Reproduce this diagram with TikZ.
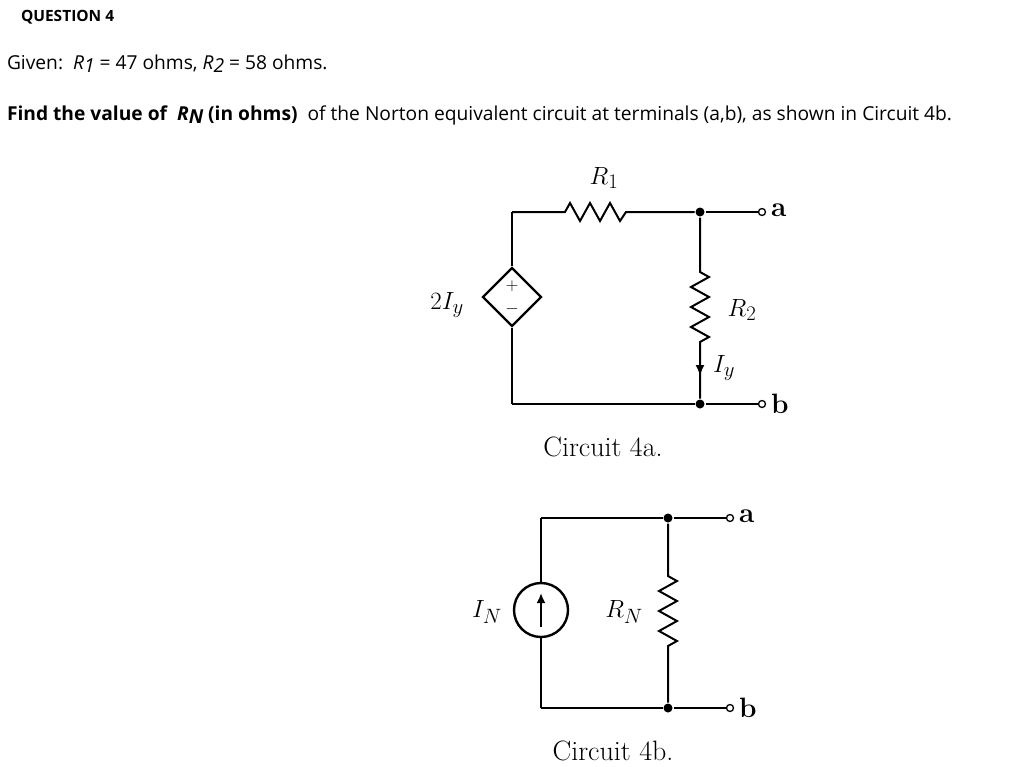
\documentclass[tikz,border=0pt]{standalone}
\usepackage{fontspec}
\setmainfont{Latin Modern Roman}
\newfontfamily\ui{Open Sans}
\usetikzlibrary{arrows.meta}
\begin{document}
\begin{tikzpicture}[x=1pt,y=-1pt,line width=2pt,
  dot/.style={circle,fill=black,inner sep=0,minimum size=9pt},
  term/.style={circle,draw=black,fill=white,line width=1.3pt,inner sep=0,minimum size=7pt},
  hdr/.style={anchor=west,inner sep=0,font=\ui\fontsize{19.2pt}{21pt}\selectfont},
  lbl/.style={inner sep=0,font=\fontsize{28pt}{30pt}\selectfont},
  sgn/.style={inner sep=0,font=\fontsize{16pt}{16pt}\selectfont}]
\useasboundingbox (0,0) rectangle (1024,766);
\node[hdr,font=\ui\bfseries\fontsize{15.5pt}{17pt}\selectfont] (q) at (20,17) {QUESTION 4};
\node[hdr] (g) at (6,64) {Given:\ \ \textit{R\raisebox{-3pt}{1}} = 47 ohms,\ \textit{R\raisebox{-3pt}{2}} = 58 ohms.};
\node[hdr] (f) at (6,115) {\textbf{Find the value of \ \textit{R\raisebox{-3pt}{N}} (in ohms)}\ \ of the Norton equivalent circuit at terminals (a,b), as shown in Circuit 4b.};
% circuit 4a
\coordinate (tl) at (512,212); \coordinate (bl) at (512,404);
\node[dot] (tr) at (700,212) {}; \node[dot] (br) at (700,404) {};
\node[term] (ta) at (762,212) {}; \node[term] (tb) at (762,404) {};
\node[draw,line width=2.4pt,minimum size=41pt,rotate=45,inner sep=0] (ds) at (512,297) {};
\draw (tl) -- (ds.north east);
\draw (bl) -- (ds.south west);
\node[sgn] (dp) at (512,286) {$+$};
\node[sgn] (dm) at (512,309) {$-$};
\draw (tl) -- (565,212) -- (570,203) -- (580,221) -- (590,203) -- (600,221) -- (610,203) -- (620,221) -- (626,212) -- (tr);
\draw (tr) -- (ta); \draw (br) -- (tb);
\draw (bl) -- (br);
\draw (tr) -- (700,272) -- (709,277) -- (691,287) -- (709,297) -- (691,307) -- (709,317) -- (691,327) -- (709,337) -- (700,342) -- (br);
\draw[-{Latex[length=11pt,width=9pt]}] (700,342) -- (700,376);
\node[lbl] (r1) at (604,178) {$R_1$};
\node[lbl] (r2) at (742,310) {$R_2$};
\node[lbl] (iy) at (724,368) {$I_y$};
\node[lbl] (s) at (447,305) {$2I_y$};
\node[lbl,anchor=west] (la) at (770,210) {$\mathbf{a}$};
\node[lbl,anchor=west] (lb) at (770,404) {$\mathbf{b}$};
\node[lbl] (c4a) at (603,447) {Circuit 4a.};
% circuit 4b
\coordinate (tl2) at (541,518); \coordinate (bl2) at (541,708);
\node[dot] (tr2) at (668,518) {}; \node[dot] (br2) at (668,708) {};
\node[term] (ta2) at (730,518) {}; \node[term] (tb2) at (730,708) {};
\node[draw,circle,line width=2.4pt,minimum size=54pt,inner sep=0] (cs) at (541,610) {};
\draw[line width=2.4pt,-{Latex[length=10pt,width=9pt]}] (541,627) -- (541,593);
\draw (tl2) -- (cs.north); \draw (bl2) -- (cs.south);
\draw (tl2) -- (tr2) -- (ta2); \draw (bl2) -- (br2) -- (tb2);
\draw (tr2) -- (668,576) -- (677,581) -- (659,591) -- (677,601) -- (659,611) -- (677,621) -- (659,631) -- (677,641) -- (668,646) -- (br2);
\node[lbl] (in) at (487,612) {$I_N$};
\node[lbl] (rn) at (624,612) {$R_N$};
\node[lbl,anchor=west] (la2) at (738,516) {$\mathbf{a}$};
\node[lbl,anchor=west] (lb2) at (738,708) {$\mathbf{b}$};
\node[lbl] (c4b) at (613,751) {Circuit 4b.};
\end{tikzpicture}
\end{document}
